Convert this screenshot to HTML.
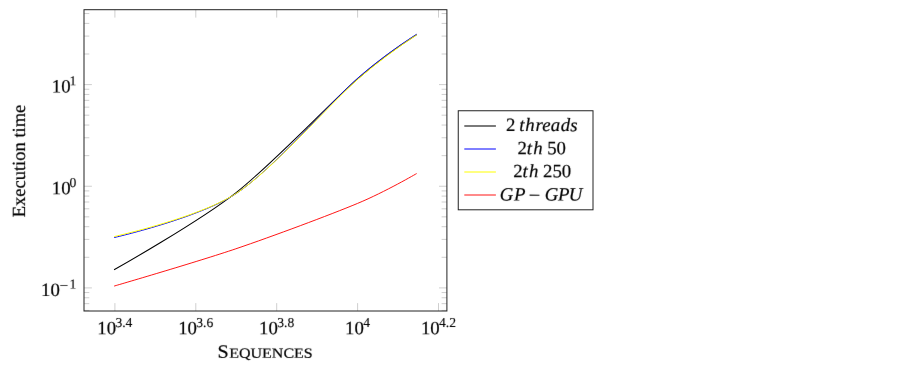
<!DOCTYPE html>
<html lang="en"><head><meta charset="utf-8"><title>Execution time vs sequences</title>
<style>
html,body{margin:0;padding:0;background:#fff;}
body{width:902px;height:370px;overflow:hidden;}
svg{display:block;}
text{font-family:"Liberation Serif", "Times New Roman", Times, serif;fill:#000;stroke:#000;stroke-width:0.2px;}
.b{font-size:18.8px;}
.s{font-size:13.6px;stroke-width:0.12px;}
.i{font-style:italic;}
</style></head><body>
<svg width="902" height="370" viewBox="0 0 902 370">
<defs><filter id="soft" x="0" y="0" width="902" height="370" filterUnits="userSpaceOnUse" color-interpolation-filters="sRGB"><feConvolveMatrix order="3" kernelMatrix="0.0028 0.0470 0.0028 0.0470 0.8008 0.0470 0.0028 0.0470 0.0028" edgeMode="duplicate" preserveAlpha="false"/></filter></defs>
<rect x="0" y="0" width="902" height="370" fill="#fff"/>

<path d="M114.90 311.00v-7.9M114.90 9.70v7.9M195.80 311.00v-7.9M195.80 9.70v7.9M276.70 311.00v-7.9M276.70 9.70v7.9M357.60 311.00v-7.9M357.60 9.70v7.9M438.50 311.00v-7.9M438.50 9.70v7.9M84.00 287.90h7.9M446.90 287.90h-7.9M84.00 186.25h7.9M446.90 186.25h-7.9M84.00 84.60h7.9M446.90 84.60h-7.9M84.00 310.45h5.3M446.90 310.45h-5.3M84.00 303.65h5.3M446.90 303.65h-5.3M84.00 297.75h5.3M446.90 297.75h-5.3M84.00 292.55h5.3M446.90 292.55h-5.3M84.00 257.30h5.3M446.90 257.30h-5.3M84.00 239.40h5.3M446.90 239.40h-5.3M84.00 226.70h5.3M446.90 226.70h-5.3M84.00 216.85h5.3M446.90 216.85h-5.3M84.00 208.80h5.3M446.90 208.80h-5.3M84.00 202.00h5.3M446.90 202.00h-5.3M84.00 196.10h5.3M446.90 196.10h-5.3M84.00 190.90h5.3M446.90 190.90h-5.3M84.00 155.65h5.3M446.90 155.65h-5.3M84.00 137.75h5.3M446.90 137.75h-5.3M84.00 125.05h5.3M446.90 125.05h-5.3M84.00 115.20h5.3M446.90 115.20h-5.3M84.00 107.15h5.3M446.90 107.15h-5.3M84.00 100.35h5.3M446.90 100.35h-5.3M84.00 94.45h5.3M446.90 94.45h-5.3M84.00 89.25h5.3M446.90 89.25h-5.3M84.00 54.00h5.3M446.90 54.00h-5.3M84.00 36.10h5.3M446.90 36.10h-5.3M84.00 23.40h5.3M446.90 23.40h-5.3M84.00 13.55h5.3M446.90 13.55h-5.3" stroke="#808080" stroke-width="0.38" fill="none"/>
<path d="M114.07 269.80C114.07 269.80 198.66 221.95 235.83 192.80C273.00 163.65 329.99 102.95 357.60 78.80C385.21 54.65 416.71 34.60 416.71 34.60" stroke="#000000" stroke-width="1.05" fill="none" stroke-linejoin="round"/>
<path d="M114.07 237.60C114.07 237.60 198.66 218.11 235.83 193.80C273.00 169.49 329.99 102.66 357.60 78.30C385.21 53.94 416.71 34.20 416.71 34.20" stroke="#0000ff" stroke-width="1.0" fill="none" stroke-linejoin="round"/>
<path d="M114.07 236.60C114.07 236.60 198.66 217.69 235.83 193.70C273.00 169.71 329.99 103.64 357.60 79.40C385.21 55.16 416.71 34.90 416.71 34.90" stroke="#ffff00" stroke-width="1.0" fill="none" stroke-linejoin="round"/>
<path d="M114.07 286.10C114.07 286.10 198.66 261.42 235.83 248.80C273.00 236.18 329.99 214.89 357.60 203.40C385.21 191.91 416.71 173.50 416.71 173.50" stroke="#ff0000" stroke-width="0.92" fill="none" stroke-linejoin="round"/>
<rect x="84.0" y="9.7" width="362.90" height="301.30" fill="none" stroke="#222" stroke-width="1"/>
<rect x="458.25" y="110.75" width="134.75" height="99.05" fill="#fff" stroke="#222" stroke-width="1"/>
<path d="M464.3 126.0H495.9" stroke="#000000" stroke-width="1.05"/>
<path d="M464.3 149.0H495.9" stroke="#0000ff" stroke-width="1.0"/>
<path d="M464.3 172.0H495.9" stroke="#ffff00" stroke-width="1.0"/>
<path d="M464.3 195.0H495.9" stroke="#ff0000" stroke-width="0.92"/>
<g filter="url(#soft)">
<text class="b" x="97.30" y="334.20" transform="rotate(0.03 97.30 334.20)">10<tspan class="s" x="115.40" y="326.90">3.4</tspan></text>
<text class="b" x="178.20" y="334.20" transform="rotate(0.03 178.20 334.20)">10<tspan class="s" x="196.30" y="326.90">3.6</tspan></text>
<text class="b" x="259.10" y="334.20" transform="rotate(0.03 259.10 334.20)">10<tspan class="s" x="277.20" y="326.90">3.8</tspan></text>
<text class="b" x="345.10" y="334.20" transform="rotate(0.03 345.10 334.20)">10<tspan class="s" x="363.20" y="326.90">4</tspan></text>
<text class="b" x="420.90" y="334.20" transform="rotate(0.03 420.90 334.20)">10<tspan class="s" x="439.00" y="326.90">4.2</tspan></text>
<text class="b" x="51.80" y="194.25" transform="rotate(0.03 51.80 194.25)">10<tspan class="s" x="69.50" y="186.95">0</tspan></text>
<text class="b" x="51.80" y="92.60" transform="rotate(0.03 51.80 92.60)">10<tspan class="s" x="69.50" y="85.30">1</tspan></text>
<text class="b" x="41.0" y="295.90" transform="rotate(0.03 41.0 295.90)">10<tspan x="59.5" y="290.60" font-size="15.6px" stroke-width="0.12">−</tspan><tspan class="s" x="69.5" y="288.60">1</tspan></text>
<text font-size="18.5px" transform="translate(25.0 161.0) rotate(-89.97)" text-anchor="middle">Execution time</text>
<text class="b" x="217.4" y="357.8" transform="rotate(0.03 217.4 357.8)"><tspan textLength="11.2" lengthAdjust="spacingAndGlyphs">S</tspan><tspan x="229.2" font-size="14.1px" textLength="83.6" lengthAdjust="spacingAndGlyphs">EQUENCES</tspan></text>
<text class="b" x="506.0" y="131.1" transform="rotate(0.03 506.0 131.1)">2 <tspan class="i" x="519.2" letter-spacing="0.1px" dx="0 0.8 0.7 0 0 0.6 0">threads</tspan></text>
<text class="b" x="517.5" y="154.2" transform="rotate(0.03 517.5 154.2)">2<tspan class="i" x="526.7" dx="0 1.3">th</tspan> <tspan x="547.2">50</tspan></text>
<text class="b" x="513.2" y="177.3" transform="rotate(0.03 513.2 177.3)">2<tspan class="i" x="522.4" dx="0 1.3">th</tspan> <tspan x="543.0">250</tspan></text>
<text class="b i" x="499.7" y="200.4" dx="0 0.6" transform="rotate(0.03 499.7 200.4)">GP <tspan x="528.7" y="202.0" font-size="20.4px" font-style="normal">−</tspan> <tspan x="544.7" y="200.4" dx="0 -0.2 -0.8">GPU</tspan></text>
</g>
</svg></body></html>
